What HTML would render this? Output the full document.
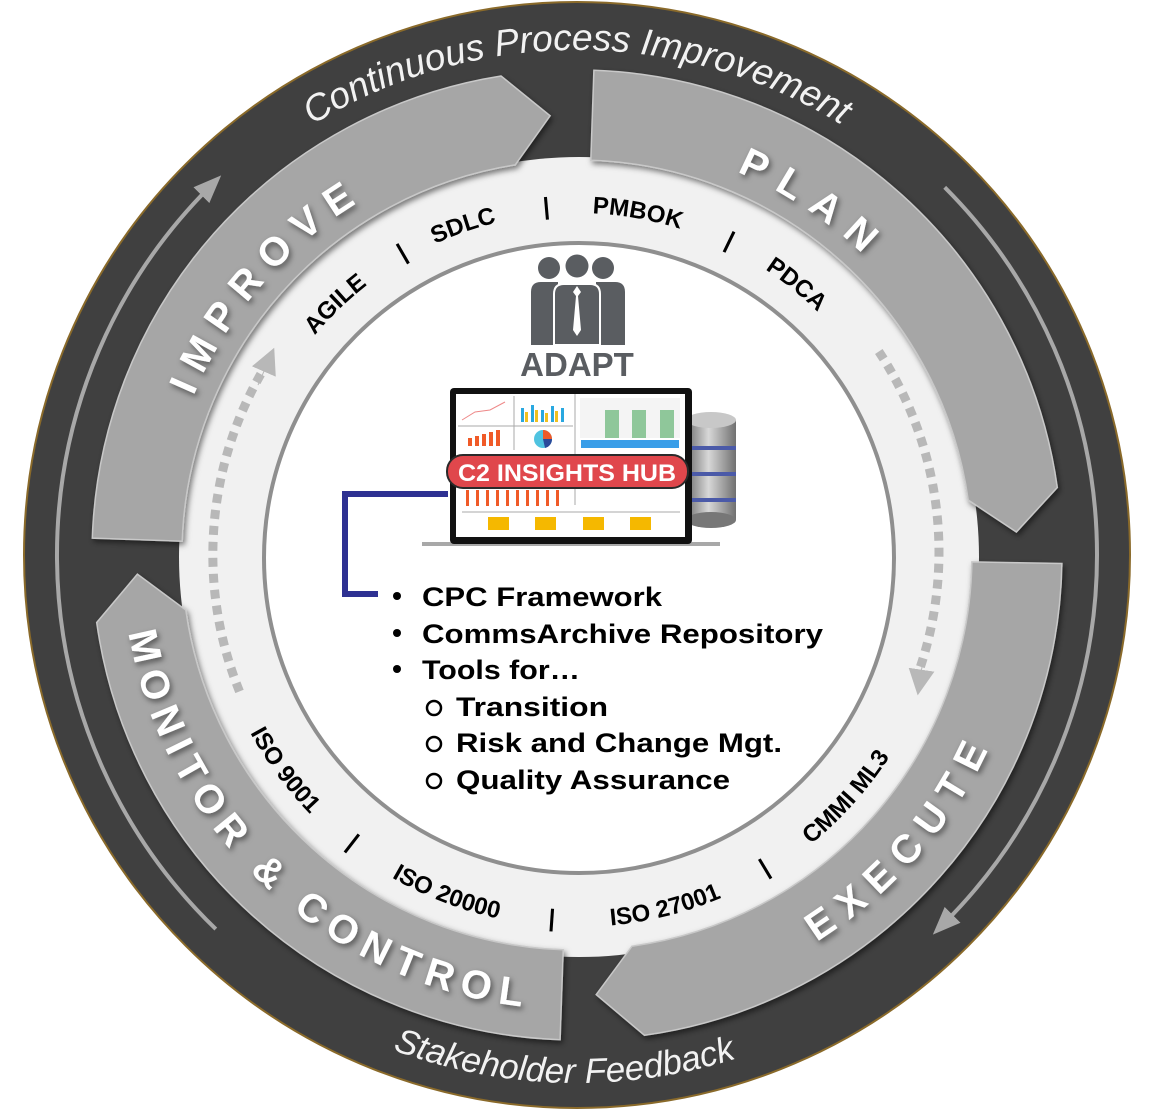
<!DOCTYPE html>
<html><head><meta charset="utf-8"><style>
html,body{margin:0;padding:0;background:#fff;width:1155px;height:1110px;overflow:hidden}
svg{display:block}
.seg{fill:#a6a6a6;stroke:#c8c8c8;stroke-width:1.5}
.lab{font-family:"Liberation Sans",sans-serif;font-weight:bold;fill:#fff;font-size:40px}
.rl{font-family:"Liberation Sans",sans-serif;font-weight:bold;fill:#000;font-size:24px}
.it{font-family:"Liberation Sans",sans-serif;font-style:italic;fill:#f2f2f2}
.bl{font-family:"Liberation Sans",sans-serif;font-weight:bold;fill:#000;font-size:27px}
</style></head><body>
<svg width="1155" height="1110" viewBox="0 0 1155 1110" xmlns="http://www.w3.org/2000/svg">
<defs>
<path id="t505" d="M72,555 A505,505 0 0 1 1082,555"/>
<path id="t415" d="M162,555 A415,415 0 0 1 992,555"/>
<path id="t342" d="M235,555 A342,342 0 0 1 919,555"/>
<path id="b455" d="M122,555 A455,455 0 0 0 1032,555"/>
<path id="b372" d="M205,555 A372,372 0 0 0 949,555"/>
<path id="b528" d="M49,555 A528,528 0 0 0 1105,555"/>
<marker id="ma" markerWidth="10" markerHeight="10" refX="5" refY="5" orient="auto" markerUnits="userSpaceOnUse" viewBox="0 0 10 10"><path d="M0,0 L10,5 L0,10 Z" fill="#a8a8a8"/></marker>
<marker id="mb" viewBox="0 0 10 10" refX="4" refY="5" markerWidth="26" markerHeight="26" orient="auto" markerUnits="userSpaceOnUse"><path d="M0,0 L10,5 L0,10 Z" fill="#b8b8b8"/></marker>
<marker id="mc" viewBox="0 0 10 10" refX="4" refY="5" markerWidth="28" markerHeight="28" orient="auto" markerUnits="userSpaceOnUse"><path d="M0,1 L10,5 L0,9 Z" fill="#a8a8a8"/></marker>
<filter id="sh" x="-10%" y="-10%" width="120%" height="120%"><feDropShadow dx="2" dy="3" stdDeviation="3" flood-opacity="0.5"/></filter>
<linearGradient id="db" x1="0" x2="1"><stop offset="0" stop-color="#6e6e6e"/><stop offset="0.45" stop-color="#d8d8d8"/><stop offset="1" stop-color="#707070"/></linearGradient>
</defs>

<circle cx="577" cy="555" r="553" fill="#404040" stroke="#8a6a2a" stroke-width="2"/>
<circle cx="579" cy="557" r="400" fill="#f1f1f1"/>
<circle cx="579" cy="558" r="315" fill="#fff" stroke="#8f8f8f" stroke-width="4"/>

<!-- thin arrows -->
<path d="M215.8,929.1 A520,520 0 0 1 209.3,187.3" fill="none" stroke="#a8a8a8" stroke-width="4" marker-end="url(#mc)"/>
<path d="M944.7,187.3 A520,520 0 0 1 944.7,922.7" fill="none" stroke="#a8a8a8" stroke-width="4" marker-end="url(#mc)"/>

<!-- dotted arrows -->
<path d="M239.5,691.4 A364,364 0 0 1 262,372" fill="none" stroke="#b8b8b8" stroke-width="9" stroke-dasharray="9 7"/>
<path d="M258,385 L268,362" stroke="#b8b8b8" stroke-width="1" marker-end="url(#mb)"/>
<path d="M878.8,351.5 A364,364 0 0 1 920,668" fill="none" stroke="#b8b8b8" stroke-width="9" stroke-dasharray="9 7"/>
<path d="M923,660 L920,680" stroke="#b8b8b8" stroke-width="1" marker-end="url(#mb)"/>

<!-- segments -->
<g filter="url(#sh)">
<path class="seg" d="M92.3,538.1 A485,485 0 0 1 501.1,76 L550.1,115.8 L515.2,164.9 A395,395 0 0 0 182.2,541.2 Z"/>
<path class="seg" d="M593.9,70.3 A485,485 0 0 1 1057.3,487.5 L1016.4,532 L968.2,500 A395,395 0 0 0 590.8,160.2 Z"/>
<path class="seg" d="M1061.9,563.5 A485,485 0 0 1 644.5,1035.3 L596.2,994.6 L632,946.2 A395,395 0 0 0 971.9,561.9 Z"/>
<path class="seg" d="M560.1,1039.7 A485,485 0 0 1 96.7,622.5 L137.4,574.2 L185.8,610 A395,395 0 0 0 563.2,949.8 Z"/>
</g>

<!-- outer texts -->
<text class="it" font-size="37"><textPath href="#t505" startOffset="50%" text-anchor="middle">Continuous Process Improvement</textPath></text>
<text class="it" font-size="35"><textPath href="#b528" startOffset="49.2%" text-anchor="middle">Stakeholder Feedback</textPath></text>

<!-- segment labels -->
<g filter="url(#sh)">
<text class="lab"><textPath href="#t415" startOffset="68.9%" text-anchor="middle" letter-spacing="14">PLAN</textPath></text>
<text class="lab"><textPath href="#t415" startOffset="22.8%" text-anchor="middle" letter-spacing="12">IMPROVE</textPath></text>
<text class="lab"><textPath href="#b455" startOffset="77.2%" text-anchor="middle" letter-spacing="12">EXECUTE</textPath></text>
<text class="lab"><textPath href="#b455" startOffset="26.1%" text-anchor="middle" letter-spacing="9">MONITOR &amp; CONTROL</textPath></text>
</g>

<!-- ring labels top -->
<text class="rl"><textPath href="#t342" startOffset="25.6%" text-anchor="middle">AGILE</textPath></text>
<text class="rl"><textPath href="#t342" startOffset="33.3%" text-anchor="middle">|</textPath></text>
<text class="rl"><textPath href="#t342" startOffset="39.4%" text-anchor="middle">SDLC</textPath></text>
<text class="rl"><textPath href="#t342" startOffset="47.2%" text-anchor="middle">|</textPath></text>
<text class="rl"><textPath href="#t342" startOffset="55.6%" text-anchor="middle">PMBOK</textPath></text>
<text class="rl"><textPath href="#t342" startOffset="64.4%" text-anchor="middle">|</textPath></text>
<text class="rl"><textPath href="#t342" startOffset="71.7%" text-anchor="middle">PDCA</textPath></text>
<!-- ring labels bottom -->
<text class="rl"><textPath href="#b372" startOffset="20.2%" text-anchor="middle">ISO 9001</textPath></text>
<text class="rl"><textPath href="#b372" startOffset="28.9%" text-anchor="middle">|</textPath></text>
<text class="rl"><textPath href="#b372" startOffset="38.3%" text-anchor="middle">ISO 20000</textPath></text>
<text class="rl"><textPath href="#b372" startOffset="47.8%" text-anchor="middle">|</textPath></text>
<text class="rl"><textPath href="#b372" startOffset="57.8%" text-anchor="middle">ISO 27001</textPath></text>
<text class="rl"><textPath href="#b372" startOffset="67.2%" text-anchor="middle">|</textPath></text>
<text class="rl"><textPath href="#b372" startOffset="76.7%" text-anchor="middle">CMMI ML3</textPath></text>

<!-- people icon -->
<g fill="#5a5d61">
<circle cx="549" cy="268" r="11"/><circle cx="577" cy="266" r="11.5"/><circle cx="603" cy="268" r="11"/>
<path d="M531,345 V292 Q531,282 541,282 H558 V345 Z"/>
<path d="M596,282 H615 Q625,282 625,292 V345 H596 Z"/>
<path d="M554,345 V294 Q554,284 564,284 H590 Q600,284 600,294 V345 Z" stroke="#fff" stroke-width="2"/>
</g>
<path d="M577,286 L573,292 L576,296 L573,330 L577,336 L581,330 L578,296 L581,292 Z" fill="#fff"/>
<text x="577" y="376" text-anchor="middle" font-family="Liberation Sans,sans-serif" font-weight="bold" font-size="33" fill="#5a5d61">ADAPT</text>

<!-- database -->
<g>
<rect x="686" y="420" width="50" height="100" fill="url(#db)"/>
<ellipse cx="711" cy="420" rx="25" ry="8" fill="#c8c8c8"/>
<rect x="686" y="446" width="50" height="4" fill="#4b5aa8"/>
<rect x="686" y="472" width="50" height="4" fill="#4b5aa8"/>
<rect x="686" y="498" width="50" height="4" fill="#4b5aa8"/>
<ellipse cx="711" cy="520" rx="25" ry="8" fill="#777"/>
</g>
<!-- laptop -->
<rect x="422" y="542" width="298" height="4" fill="#a8a8a8"/>
<rect x="450" y="388" width="242" height="156" rx="4" fill="#111"/>
<rect x="456" y="394" width="229" height="143" fill="#fff"/>
<g stroke="#aaa" stroke-width="1">
<line x1="575" y1="394" x2="575" y2="505"/><line x1="514" y1="396" x2="514" y2="450"/>
<line x1="458" y1="426" x2="573" y2="426"/><line x1="462" y1="512" x2="680" y2="512"/>
</g>
<polyline points="462,420 475,412 490,410 505,402" fill="none" stroke="#e88" stroke-width="1"/>
<g fill="#29a8e0"><rect x="521" y="408" width="3" height="14"/><rect x="531" y="405" width="3" height="17"/><rect x="541" y="410" width="3" height="12"/><rect x="551" y="406" width="3" height="16"/><rect x="561" y="408" width="3" height="14"/></g>
<g fill="#f0c020"><rect x="525" y="412" width="3" height="10"/><rect x="535" y="410" width="3" height="12"/><rect x="545" y="413" width="3" height="9"/><rect x="555" y="411" width="3" height="11"/></g>
<g fill="#f05a28"><rect x="468" y="438" width="4" height="8"/><rect x="475" y="436" width="4" height="10"/><rect x="482" y="434" width="4" height="12"/><rect x="489" y="432" width="4" height="14"/><rect x="496" y="430" width="4" height="16"/></g>
<circle cx="543" cy="439" r="9" fill="#4fc3e0"/><path d="M543,439 L543,430 A9,9 0 0 1 552,439 Z" fill="#f05a28"/><path d="M543,439 L552,439 A9,9 0 0 1 545,448 Z" fill="#2a4a9a"/>
<rect x="580" y="398" width="100" height="40" fill="#f4f4f4"/>
<rect x="605" y="410" width="14" height="28" fill="#8fc79a"/><rect x="632" y="410" width="14" height="28" fill="#8fc79a"/><rect x="660" y="410" width="14" height="28" fill="#8fc79a"/>
<rect x="581" y="440" width="98" height="8" fill="#3a9ee8"/>
<g fill="#f05a28"><rect x="466" y="490" width="3" height="16"/><rect x="476" y="490" width="3" height="16"/><rect x="486" y="490" width="3" height="16"/><rect x="496" y="490" width="3" height="16"/><rect x="506" y="490" width="3" height="16"/><rect x="516" y="490" width="3" height="16"/><rect x="526" y="490" width="3" height="16"/><rect x="536" y="490" width="3" height="16"/><rect x="546" y="490" width="3" height="16"/><rect x="556" y="490" width="3" height="16"/></g>
<g fill="#f5b800"><rect x="488" y="517" width="21" height="13"/><rect x="535" y="517" width="21" height="13"/><rect x="583" y="517" width="21" height="13"/><rect x="630" y="517" width="21" height="13"/></g>
<rect x="447" y="455" width="241" height="33" rx="16" fill="#e0474c" stroke="#2a2a2a" stroke-width="2"/>
<text x="567" y="481" text-anchor="middle" font-family="Liberation Sans,sans-serif" font-weight="bold" font-size="24" fill="#fff" textLength="218" lengthAdjust="spacingAndGlyphs">C2 INSIGHTS HUB</text>

<!-- connector -->
<polyline points="448,494 345,494 345,594 378,594" fill="none" stroke="#2e3192" stroke-width="6"/>

<!-- bullets -->
<g class="bl">
<circle cx="397" cy="596" r="4"/><circle cx="397" cy="633" r="4"/><circle cx="397" cy="669" r="4"/>
<text x="422" y="606" textLength="240" lengthAdjust="spacingAndGlyphs">CPC Framework</text>
<text x="422" y="643" textLength="401" lengthAdjust="spacingAndGlyphs">CommsArchive Repository</text>
<text x="422" y="679" textLength="158" lengthAdjust="spacingAndGlyphs">Tools for…</text>
<text x="456" y="716" textLength="152" lengthAdjust="spacingAndGlyphs">Transition</text>
<text x="456" y="752" textLength="326" lengthAdjust="spacingAndGlyphs">Risk and Change Mgt.</text>
<text x="456" y="789" textLength="274" lengthAdjust="spacingAndGlyphs">Quality Assurance</text>
</g>
<g fill="none" stroke="#000" stroke-width="2.5">
<circle cx="434" cy="708" r="7"/><circle cx="434" cy="744" r="7"/><circle cx="434" cy="781" r="7"/>
</g>
</svg>
</body></html>
